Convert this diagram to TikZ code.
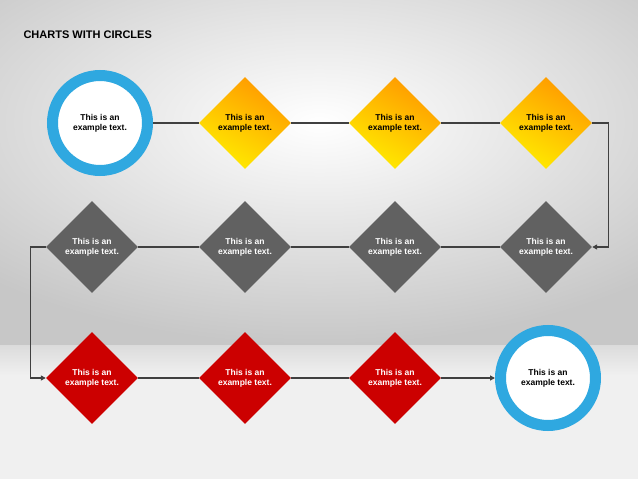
\documentclass[tikz,border=0pt]{standalone}
\usepackage{fontspec}
\setmainfont{Liberation Sans}
\usetikzlibrary{shapes.geometric,arrows.meta}
\definecolor{ring}{HTML}{2FA8E0}
\tikzset{
  dia/.style={diamond,inner sep=0pt,minimum width=92pt,minimum height=92pt,align=center,font=\bfseries\fontsize{8.5}{10}\selectfont},
  yel/.style={dia,top color=orange!80!yellow,bottom color=yellow!85!orange,shading angle=-30,text=black},
  gry/.style={dia,fill=black!62,text=white},
  rd/.style={dia,fill=red!80!black,text=white},
  ringn/.style={circle,minimum size=95pt,inner sep=0pt,draw=ring,line width=11pt,fill=white,align=center,font=\bfseries\fontsize{8.5}{10}\selectfont},
  conn/.style={draw=black!75,line width=1.3pt},
  arr/.style={conn,-{Triangle[length=5pt,width=5pt]}}
}
\begin{document}
\begin{tikzpicture}[x=1pt,y=-1pt]
\useasboundingbox (0,0) rectangle (638,479);
\shade[inner color=white,outer color=black!22] (-150,-100) rectangle (788,345);
\fill[black!6] (0,345) rectangle (638,479);
\shade[top color=black!14,bottom color=black!6] (0,345) rectangle (638,375);
\node[anchor=west,font=\bfseries\fontsize{11}{13}\selectfont] (title) at (20,35) {CHARTS WITH CIRCLES};
\node[ringn] (c1) at (100,123) {This is an\\example text.};
\node[yel] (y1) at (245,123) {This is an\\example text.};
\node[yel] (y2) at (395,123) {This is an\\example text.};
\node[yel] (y3) at (546,123) {This is an\\example text.};
\node[gry] (g1) at (92,247) {This is an\\example text.};
\node[gry] (g2) at (245,247) {This is an\\example text.};
\node[gry] (g3) at (395,247) {This is an\\example text.};
\node[gry] (g4) at (546,247) {This is an\\example text.};
\node[rd] (r1) at (92,378) {This is an\\example text.};
\node[rd] (r2) at (245,378) {This is an\\example text.};
\node[rd] (r3) at (395,378) {This is an\\example text.};
\node[ringn] (c2) at (548,378) {This is an\\example text.};
\draw[conn] (c1.east) -- (y1.west);
\draw[conn] (y1.east) -- (y2.west);
\draw[conn] (y2.east) -- (y3.west);
\draw[arr] (y3.east) -- ++(16,0) |- (g4.east);
\draw[conn] (g4.west) -- (g3.east);
\draw[conn] (g3.west) -- (g2.east);
\draw[conn] (g2.west) -- (g1.east);
\draw[arr] (g1.west) -- ++(-15,0) |- (r1.west);
\draw[conn] (r1.east) -- (r2.west);
\draw[conn] (r2.east) -- (r3.west);
\draw[arr] (r3.east) -- (c2.west);
\end{tikzpicture}
\end{document}
